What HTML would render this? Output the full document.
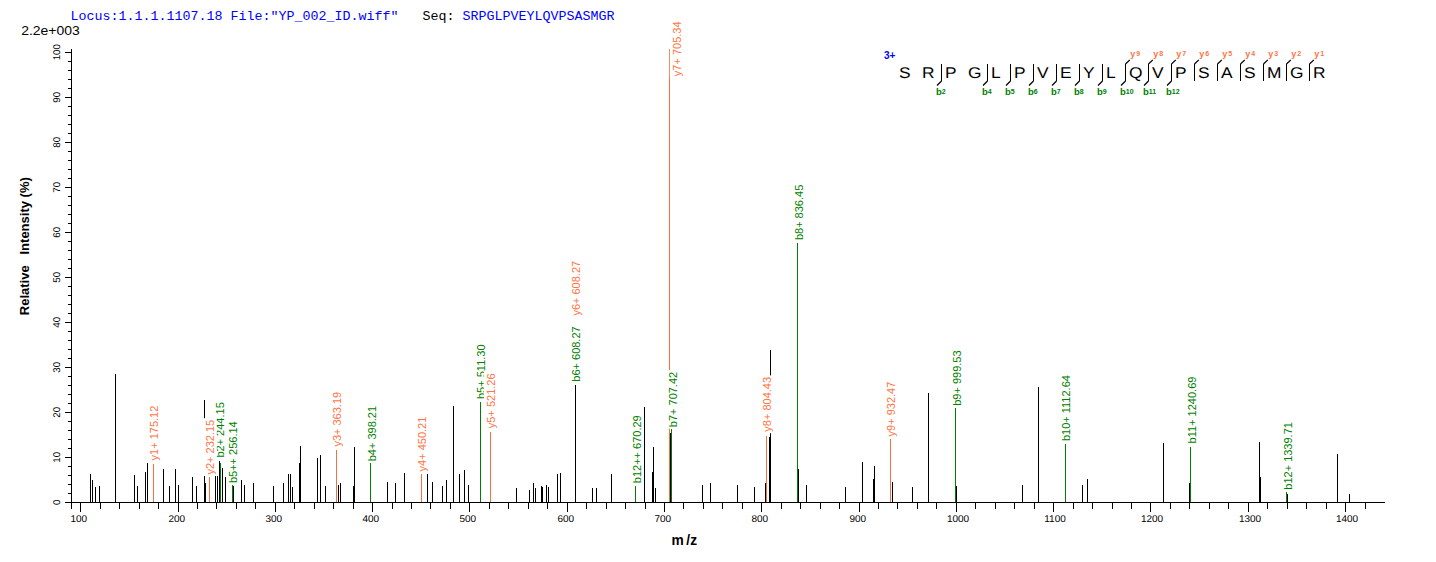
<!DOCTYPE html><html><head><meta charset="utf-8"><style>html,body{margin:0;padding:0;background:#fff;}svg{display:block;}</style></head><body>
<svg width="1436" height="562" viewBox="0 0 1436 562" font-family="Liberation Sans, sans-serif">
<rect width="1436" height="562" fill="#fff"/>
<text x="70.5" y="20" font-family="Liberation Mono, monospace" font-size="13.33" fill="#0000FF" xml:space="preserve">Locus:1.1.1.1107.18 File:"YP_002_ID.wiff"   <tspan fill="#000">Seq: </tspan>SRPGLPVEYLQVPSASMGR</text>
<text x="21.2" y="35" font-size="13" textLength="58.6" lengthAdjust="spacingAndGlyphs" fill="#000">2.2e+003</text>
<g shape-rendering="crispEdges">
<rect x="90" y="474.0" width="1" height="28.5" fill="#000000"/>
<rect x="92" y="480.0" width="1" height="22.5" fill="#000000"/>
<rect x="95" y="487.0" width="1" height="15.5" fill="#000000"/>
<rect x="99" y="486.0" width="1" height="16.5" fill="#000000"/>
<rect x="115" y="374.0" width="1" height="128.5" fill="#000000"/>
<rect x="134" y="475.0" width="1" height="27.5" fill="#000000"/>
<rect x="137" y="486.0" width="1" height="16.5" fill="#000000"/>
<rect x="145" y="472.0" width="1" height="30.5" fill="#000000"/>
<rect x="147" y="463.0" width="1" height="39.5" fill="#000000"/>
<rect x="163" y="469.0" width="1" height="33.5" fill="#000000"/>
<rect x="169" y="486.0" width="1" height="16.5" fill="#000000"/>
<rect x="175" y="469.0" width="1" height="33.5" fill="#000000"/>
<rect x="178" y="485.0" width="1" height="17.5" fill="#000000"/>
<rect x="192" y="477.0" width="1" height="25.5" fill="#000000"/>
<rect x="196" y="486.0" width="1" height="16.5" fill="#000000"/>
<rect x="204" y="400.0" width="1" height="102.5" fill="#000000"/>
<rect x="205" y="483.3" width="1" height="19.2" fill="#000000"/>
<rect x="215" y="475.2" width="1" height="27.3" fill="#000000"/>
<rect x="217" y="476.2" width="1" height="26.3" fill="#000000"/>
<rect x="219" y="461.3" width="1" height="41.2" fill="#000000"/>
<rect x="222" y="468.1" width="1" height="34.4" fill="#000000"/>
<rect x="225" y="476.9" width="1" height="25.6" fill="#000000"/>
<rect x="233" y="486.0" width="1" height="16.5" fill="#000000"/>
<rect x="241" y="480.1" width="1" height="22.4" fill="#000000"/>
<rect x="244" y="484.7" width="1" height="17.8" fill="#000000"/>
<rect x="253" y="483.1" width="1" height="19.4" fill="#000000"/>
<rect x="273" y="486.0" width="1" height="16.5" fill="#000000"/>
<rect x="283" y="483.0" width="1" height="19.5" fill="#000000"/>
<rect x="288" y="474.0" width="1" height="28.5" fill="#000000"/>
<rect x="290" y="474.0" width="1" height="28.5" fill="#000000"/>
<rect x="292" y="487.0" width="1" height="15.5" fill="#000000"/>
<rect x="299" y="463.0" width="1" height="39.5" fill="#000000"/>
<rect x="300" y="446.0" width="1" height="56.5" fill="#000000"/>
<rect x="317" y="458.0" width="1" height="44.5" fill="#000000"/>
<rect x="320" y="455.0" width="1" height="47.5" fill="#000000"/>
<rect x="325" y="486.0" width="1" height="16.5" fill="#000000"/>
<rect x="338" y="485.0" width="1" height="17.5" fill="#000000"/>
<rect x="340" y="483.0" width="1" height="19.5" fill="#000000"/>
<rect x="353" y="486.0" width="1" height="16.5" fill="#000000"/>
<rect x="354" y="447.0" width="1" height="55.5" fill="#000000"/>
<rect x="387" y="482.0" width="1" height="20.5" fill="#000000"/>
<rect x="395" y="483.0" width="1" height="19.5" fill="#000000"/>
<rect x="404" y="473.0" width="1" height="29.5" fill="#000000"/>
<rect x="427" y="474.0" width="1" height="28.5" fill="#000000"/>
<rect x="432" y="482.0" width="1" height="20.5" fill="#000000"/>
<rect x="442" y="486.0" width="1" height="16.5" fill="#000000"/>
<rect x="446" y="480.0" width="1" height="22.5" fill="#000000"/>
<rect x="453" y="405.9" width="1" height="96.6" fill="#000000"/>
<rect x="459" y="474.0" width="1" height="28.5" fill="#000000"/>
<rect x="464" y="470.0" width="1" height="32.5" fill="#000000"/>
<rect x="468" y="485.0" width="1" height="17.5" fill="#000000"/>
<rect x="516" y="488.0" width="1" height="14.5" fill="#000000"/>
<rect x="529" y="490.0" width="1" height="12.5" fill="#000000"/>
<rect x="533" y="483.0" width="1" height="19.5" fill="#000000"/>
<rect x="535" y="488.0" width="1" height="14.5" fill="#000000"/>
<rect x="541" y="486.0" width="1" height="16.5" fill="#000000"/>
<rect x="542" y="487.0" width="1" height="15.5" fill="#000000"/>
<rect x="546" y="485.0" width="1" height="17.5" fill="#000000"/>
<rect x="548" y="487.0" width="1" height="15.5" fill="#000000"/>
<rect x="557" y="474.0" width="1" height="28.5" fill="#000000"/>
<rect x="560" y="473.0" width="1" height="29.5" fill="#000000"/>
<rect x="575" y="385.0" width="1" height="117.5" fill="#000000"/>
<rect x="592" y="488.0" width="1" height="14.5" fill="#000000"/>
<rect x="596" y="488.0" width="1" height="14.5" fill="#000000"/>
<rect x="611" y="474.0" width="1" height="28.5" fill="#000000"/>
<rect x="644" y="407.0" width="1" height="95.5" fill="#000000"/>
<rect x="652" y="471.8" width="1" height="30.7" fill="#000000"/>
<rect x="653" y="446.8" width="1" height="55.7" fill="#000000"/>
<rect x="655" y="488.0" width="1" height="14.5" fill="#000000"/>
<rect x="670" y="432.5" width="1" height="70.0" fill="#000000"/>
<rect x="702" y="485.0" width="1" height="17.5" fill="#000000"/>
<rect x="710" y="483.0" width="1" height="19.5" fill="#000000"/>
<rect x="737" y="485.0" width="1" height="17.5" fill="#000000"/>
<rect x="754" y="487.0" width="1" height="15.5" fill="#000000"/>
<rect x="765" y="483.0" width="1" height="19.5" fill="#000000"/>
<rect x="769" y="437.0" width="1" height="65.5" fill="#000000"/>
<rect x="770" y="350.3" width="1" height="152.2" fill="#000000"/>
<rect x="798" y="469.0" width="1" height="33.5" fill="#000000"/>
<rect x="806" y="485.0" width="1" height="17.5" fill="#000000"/>
<rect x="845" y="487.0" width="1" height="15.5" fill="#000000"/>
<rect x="862" y="462.0" width="1" height="40.5" fill="#000000"/>
<rect x="873" y="479.0" width="1" height="23.5" fill="#000000"/>
<rect x="874" y="466.0" width="1" height="36.5" fill="#000000"/>
<rect x="892" y="482.0" width="1" height="20.5" fill="#000000"/>
<rect x="912" y="487.0" width="1" height="15.5" fill="#000000"/>
<rect x="928" y="392.8" width="1" height="109.7" fill="#000000"/>
<rect x="956" y="486.0" width="1" height="16.5" fill="#000000"/>
<rect x="1022" y="485.0" width="1" height="17.5" fill="#000000"/>
<rect x="1038" y="387.0" width="1" height="115.5" fill="#000000"/>
<rect x="1082" y="485.0" width="1" height="17.5" fill="#000000"/>
<rect x="1087" y="479.0" width="1" height="23.5" fill="#000000"/>
<rect x="1163" y="443.0" width="1" height="59.5" fill="#000000"/>
<rect x="1189" y="483.0" width="1" height="19.5" fill="#000000"/>
<rect x="1259" y="441.7" width="1" height="60.8" fill="#000000"/>
<rect x="1260" y="476.6" width="1" height="25.9" fill="#000000"/>
<rect x="1287" y="494.0" width="1" height="8.5" fill="#000000"/>
<rect x="1337" y="454.0" width="1" height="48.5" fill="#000000"/>
<rect x="1349" y="494.0" width="1" height="8.5" fill="#000000"/>
<rect x="153" y="464.0" width="1" height="38.5" fill="#F7703C"/>
<rect x="209" y="477.2" width="1" height="25.3" fill="#F7703C"/>
<rect x="336" y="450.4" width="1" height="52.1" fill="#F7703C"/>
<rect x="421" y="474.0" width="1" height="28.5" fill="#F7703C"/>
<rect x="490" y="431.8" width="1" height="70.7" fill="#F7703C"/>
<rect x="669" y="48.8" width="1" height="453.7" fill="#F7703C"/>
<rect x="766" y="435.7" width="1" height="66.8" fill="#F7703C"/>
<rect x="890" y="438.8" width="1" height="63.7" fill="#F7703C"/>
<rect x="220" y="462.7" width="1" height="39.8" fill="#008000"/>
<rect x="232" y="485.0" width="1" height="17.5" fill="#008000"/>
<rect x="370" y="463.3" width="1" height="39.2" fill="#008000"/>
<rect x="480" y="402.0" width="1" height="100.5" fill="#008000"/>
<rect x="635" y="485.7" width="1" height="16.8" fill="#008000"/>
<rect x="671" y="429.0" width="1" height="73.5" fill="#008000"/>
<rect x="797" y="242.9" width="1" height="259.6" fill="#008000"/>
<rect x="955" y="407.5" width="1" height="95.0" fill="#008000"/>
<rect x="1065" y="443.6" width="1" height="58.9" fill="#008000"/>
<rect x="1190" y="447.2" width="1" height="55.3" fill="#008000"/>
<rect x="1286" y="492.1" width="1" height="10.4" fill="#008000"/>
</g>
<rect x="669.80" y="19.90" width="13.30" height="57.80" fill="#fff"/>
<text transform="translate(680.60,76.20) rotate(-90)" font-size="11" fill="#FF7444">y7+ 705.34</text>
<rect x="791.90" y="183.18" width="13.30" height="58.42" fill="#fff"/>
<text transform="translate(802.70,240.10) rotate(-90)" font-size="11" fill="#008000">b8+ 836.45</text>
<rect x="569.20" y="259.30" width="13.30" height="57.80" fill="#fff"/>
<text transform="translate(580.00,315.60) rotate(-90)" font-size="11" fill="#FF7444">y6+ 608.27</text>
<rect x="568.70" y="324.78" width="13.30" height="58.42" fill="#fff"/>
<text transform="translate(579.50,381.70) rotate(-90)" font-size="11" fill="#008000">b6+ 608.27</text>
<rect x="473.70" y="342.89" width="13.30" height="57.61" fill="#fff"/>
<text transform="translate(484.50,399.00) rotate(-90)" font-size="11" fill="#008000">b5+ 511.30</text>
<rect x="949.90" y="348.88" width="13.30" height="58.42" fill="#fff"/>
<text transform="translate(960.70,405.80) rotate(-90)" font-size="11" fill="#008000">b9+ 999.53</text>
<rect x="666.00" y="370.28" width="13.30" height="58.42" fill="#fff"/>
<text transform="translate(676.80,427.20) rotate(-90)" font-size="11" fill="#008000">b7+ 707.42</text>
<rect x="483.80" y="371.90" width="13.30" height="57.80" fill="#fff"/>
<text transform="translate(494.60,428.20) rotate(-90)" font-size="11" fill="#FF7444">y5+ 521.26</text>
<rect x="1059.30" y="373.55" width="13.30" height="69.05" fill="#fff"/>
<text transform="translate(1070.10,441.10) rotate(-90)" font-size="11" fill="#008000">b10+ 1112.64</text>
<rect x="759.80" y="375.40" width="13.30" height="57.80" fill="#fff"/>
<text transform="translate(770.60,431.70) rotate(-90)" font-size="11" fill="#FF7444">y8+ 804.43</text>
<rect x="1184.80" y="375.04" width="13.30" height="69.86" fill="#fff"/>
<text transform="translate(1195.60,443.40) rotate(-90)" font-size="11" fill="#008000">b11+ 1240.69</text>
<rect x="884.40" y="380.10" width="13.30" height="57.80" fill="#fff"/>
<text transform="translate(895.20,436.40) rotate(-90)" font-size="11" fill="#FF7444">y9+ 932.47</text>
<rect x="329.90" y="390.30" width="13.30" height="57.80" fill="#fff"/>
<text transform="translate(340.70,446.60) rotate(-90)" font-size="11" fill="#FF7444">y3+ 363.19</text>
<rect x="213.00" y="400.68" width="13.30" height="58.42" fill="#fff"/>
<text transform="translate(223.80,457.60) rotate(-90)" font-size="11" fill="#008000">b2+ 244.15</text>
<rect x="147.00" y="404.10" width="13.30" height="57.80" fill="#fff"/>
<text transform="translate(157.80,460.40) rotate(-90)" font-size="11" fill="#FF7444">y1+ 175.12</text>
<rect x="364.90" y="404.38" width="13.30" height="58.42" fill="#fff"/>
<text transform="translate(375.70,461.30) rotate(-90)" font-size="11" fill="#008000">b4+ 398.21</text>
<rect x="629.70" y="413.73" width="13.30" height="70.97" fill="#fff"/>
<text transform="translate(640.50,483.20) rotate(-90)" font-size="11" fill="#008000">b12++ 670.29</text>
<rect x="415.60" y="415.10" width="13.30" height="57.80" fill="#fff"/>
<text transform="translate(426.40,471.40) rotate(-90)" font-size="11" fill="#FF7444">y4+ 450.21</text>
<rect x="203.50" y="418.20" width="13.30" height="57.80" fill="#fff"/>
<text transform="translate(214.30,474.50) rotate(-90)" font-size="11" fill="#FF7444">y2+ 232.15</text>
<rect x="226.00" y="419.76" width="13.30" height="64.84" fill="#fff"/>
<text transform="translate(236.80,483.10) rotate(-90)" font-size="11" fill="#008000">b5++ 256.14</text>
<rect x="1281.20" y="420.53" width="13.30" height="70.67" fill="#fff"/>
<text transform="translate(1292.00,489.70) rotate(-90)" font-size="11" fill="#008000">b12+ 1339.71</text>
<g shape-rendering="crispEdges" fill="#000">
<rect x="71" y="49" width="1" height="460"/>
<rect x="65" y="502" width="1320" height="1"/>
<rect x="65" y="502" width="6" height="1"/>
<rect x="68" y="493" width="3" height="1"/>
<rect x="68" y="484" width="3" height="1"/>
<rect x="68" y="475" width="3" height="1"/>
<rect x="68" y="466" width="3" height="1"/>
<rect x="65" y="457" width="6" height="1"/>
<rect x="68" y="448" width="3" height="1"/>
<rect x="68" y="439" width="3" height="1"/>
<rect x="68" y="430" width="3" height="1"/>
<rect x="68" y="421" width="3" height="1"/>
<rect x="65" y="412" width="6" height="1"/>
<rect x="68" y="403" width="3" height="1"/>
<rect x="68" y="394" width="3" height="1"/>
<rect x="68" y="385" width="3" height="1"/>
<rect x="68" y="376" width="3" height="1"/>
<rect x="65" y="367" width="6" height="1"/>
<rect x="68" y="358" width="3" height="1"/>
<rect x="68" y="349" width="3" height="1"/>
<rect x="68" y="340" width="3" height="1"/>
<rect x="68" y="331" width="3" height="1"/>
<rect x="65" y="322" width="6" height="1"/>
<rect x="68" y="313" width="3" height="1"/>
<rect x="68" y="304" width="3" height="1"/>
<rect x="68" y="295" width="3" height="1"/>
<rect x="68" y="286" width="3" height="1"/>
<rect x="65" y="277" width="6" height="1"/>
<rect x="68" y="268" width="3" height="1"/>
<rect x="68" y="259" width="3" height="1"/>
<rect x="68" y="250" width="3" height="1"/>
<rect x="68" y="241" width="3" height="1"/>
<rect x="65" y="232" width="6" height="1"/>
<rect x="68" y="223" width="3" height="1"/>
<rect x="68" y="214" width="3" height="1"/>
<rect x="68" y="205" width="3" height="1"/>
<rect x="68" y="196" width="3" height="1"/>
<rect x="65" y="187" width="6" height="1"/>
<rect x="68" y="178" width="3" height="1"/>
<rect x="68" y="169" width="3" height="1"/>
<rect x="68" y="160" width="3" height="1"/>
<rect x="68" y="151" width="3" height="1"/>
<rect x="65" y="142" width="6" height="1"/>
<rect x="68" y="133" width="3" height="1"/>
<rect x="68" y="124" width="3" height="1"/>
<rect x="68" y="115" width="3" height="1"/>
<rect x="68" y="106" width="3" height="1"/>
<rect x="65" y="97" width="6" height="1"/>
<rect x="68" y="88" width="3" height="1"/>
<rect x="68" y="79" width="3" height="1"/>
<rect x="68" y="70" width="3" height="1"/>
<rect x="68" y="61" width="3" height="1"/>
<rect x="65" y="52" width="6" height="1"/>
<rect x="80" y="503" width="1" height="9"/>
<rect x="100" y="503" width="1" height="6"/>
<rect x="119" y="503" width="1" height="6"/>
<rect x="139" y="503" width="1" height="6"/>
<rect x="158" y="503" width="1" height="6"/>
<rect x="178" y="503" width="1" height="9"/>
<rect x="197" y="503" width="1" height="6"/>
<rect x="216" y="503" width="1" height="6"/>
<rect x="236" y="503" width="1" height="6"/>
<rect x="255" y="503" width="1" height="6"/>
<rect x="275" y="503" width="1" height="9"/>
<rect x="294" y="503" width="1" height="6"/>
<rect x="314" y="503" width="1" height="6"/>
<rect x="333" y="503" width="1" height="6"/>
<rect x="353" y="503" width="1" height="6"/>
<rect x="372" y="503" width="1" height="9"/>
<rect x="392" y="503" width="1" height="6"/>
<rect x="411" y="503" width="1" height="6"/>
<rect x="430" y="503" width="1" height="6"/>
<rect x="450" y="503" width="1" height="6"/>
<rect x="469" y="503" width="1" height="9"/>
<rect x="489" y="503" width="1" height="6"/>
<rect x="508" y="503" width="1" height="6"/>
<rect x="528" y="503" width="1" height="6"/>
<rect x="547" y="503" width="1" height="6"/>
<rect x="567" y="503" width="1" height="9"/>
<rect x="586" y="503" width="1" height="6"/>
<rect x="606" y="503" width="1" height="6"/>
<rect x="625" y="503" width="1" height="6"/>
<rect x="645" y="503" width="1" height="6"/>
<rect x="664" y="503" width="1" height="9"/>
<rect x="683" y="503" width="1" height="6"/>
<rect x="703" y="503" width="1" height="6"/>
<rect x="722" y="503" width="1" height="6"/>
<rect x="742" y="503" width="1" height="6"/>
<rect x="761" y="503" width="1" height="9"/>
<rect x="781" y="503" width="1" height="6"/>
<rect x="800" y="503" width="1" height="6"/>
<rect x="820" y="503" width="1" height="6"/>
<rect x="839" y="503" width="1" height="6"/>
<rect x="859" y="503" width="1" height="9"/>
<rect x="878" y="503" width="1" height="6"/>
<rect x="897" y="503" width="1" height="6"/>
<rect x="917" y="503" width="1" height="6"/>
<rect x="936" y="503" width="1" height="6"/>
<rect x="956" y="503" width="1" height="9"/>
<rect x="975" y="503" width="1" height="6"/>
<rect x="995" y="503" width="1" height="6"/>
<rect x="1014" y="503" width="1" height="6"/>
<rect x="1034" y="503" width="1" height="6"/>
<rect x="1053" y="503" width="1" height="9"/>
<rect x="1073" y="503" width="1" height="6"/>
<rect x="1092" y="503" width="1" height="6"/>
<rect x="1112" y="503" width="1" height="6"/>
<rect x="1131" y="503" width="1" height="6"/>
<rect x="1150" y="503" width="1" height="9"/>
<rect x="1170" y="503" width="1" height="6"/>
<rect x="1189" y="503" width="1" height="6"/>
<rect x="1209" y="503" width="1" height="6"/>
<rect x="1228" y="503" width="1" height="6"/>
<rect x="1248" y="503" width="1" height="9"/>
<rect x="1267" y="503" width="1" height="6"/>
<rect x="1287" y="503" width="1" height="6"/>
<rect x="1306" y="503" width="1" height="6"/>
<rect x="1326" y="503" width="1" height="6"/>
<rect x="1345" y="503" width="1" height="9"/>
<rect x="1365" y="503" width="1" height="6"/>
</g>
<text transform="translate(59.7,502.2) rotate(-90)" font-size="9.8" text-rendering="geometricPrecision" text-anchor="middle" fill="#000">0</text>
<text transform="translate(59.7,457.2) rotate(-90)" font-size="9.8" text-rendering="geometricPrecision" text-anchor="middle" fill="#000">10</text>
<text transform="translate(59.7,412.2) rotate(-90)" font-size="9.8" text-rendering="geometricPrecision" text-anchor="middle" fill="#000">20</text>
<text transform="translate(59.7,367.2) rotate(-90)" font-size="9.8" text-rendering="geometricPrecision" text-anchor="middle" fill="#000">30</text>
<text transform="translate(59.7,322.2) rotate(-90)" font-size="9.8" text-rendering="geometricPrecision" text-anchor="middle" fill="#000">40</text>
<text transform="translate(59.7,277.2) rotate(-90)" font-size="9.8" text-rendering="geometricPrecision" text-anchor="middle" fill="#000">50</text>
<text transform="translate(59.7,232.2) rotate(-90)" font-size="9.8" text-rendering="geometricPrecision" text-anchor="middle" fill="#000">60</text>
<text transform="translate(59.7,187.2) rotate(-90)" font-size="9.8" text-rendering="geometricPrecision" text-anchor="middle" fill="#000">70</text>
<text transform="translate(59.7,142.2) rotate(-90)" font-size="9.8" text-rendering="geometricPrecision" text-anchor="middle" fill="#000">80</text>
<text transform="translate(59.7,97.2) rotate(-90)" font-size="9.8" text-rendering="geometricPrecision" text-anchor="middle" fill="#000">90</text>
<text transform="translate(59.7,52.2) rotate(-90)" font-size="9.8" text-rendering="geometricPrecision" text-anchor="middle" fill="#000">100</text>
<text transform="translate(78.80,522) scale(1.02,1)" font-size="9.8" text-rendering="geometricPrecision" text-anchor="middle" fill="#000">100</text>
<text transform="translate(176.80,522) scale(1.02,1)" font-size="9.8" text-rendering="geometricPrecision" text-anchor="middle" fill="#000">200</text>
<text transform="translate(273.80,522) scale(1.02,1)" font-size="9.8" text-rendering="geometricPrecision" text-anchor="middle" fill="#000">300</text>
<text transform="translate(370.80,522) scale(1.02,1)" font-size="9.8" text-rendering="geometricPrecision" text-anchor="middle" fill="#000">400</text>
<text transform="translate(467.80,522) scale(1.02,1)" font-size="9.8" text-rendering="geometricPrecision" text-anchor="middle" fill="#000">500</text>
<text transform="translate(565.80,522) scale(1.02,1)" font-size="9.8" text-rendering="geometricPrecision" text-anchor="middle" fill="#000">600</text>
<text transform="translate(662.80,522) scale(1.02,1)" font-size="9.8" text-rendering="geometricPrecision" text-anchor="middle" fill="#000">700</text>
<text transform="translate(759.80,522) scale(1.02,1)" font-size="9.8" text-rendering="geometricPrecision" text-anchor="middle" fill="#000">800</text>
<text transform="translate(857.80,522) scale(1.02,1)" font-size="9.8" text-rendering="geometricPrecision" text-anchor="middle" fill="#000">900</text>
<text transform="translate(958.00,522) scale(1.02,1)" font-size="9.8" text-rendering="geometricPrecision" text-anchor="middle" fill="#000">1000</text>
<text transform="translate(1055.00,522) scale(1.02,1)" font-size="9.8" text-rendering="geometricPrecision" text-anchor="middle" fill="#000">1100</text>
<text transform="translate(1152.00,522) scale(1.02,1)" font-size="9.8" text-rendering="geometricPrecision" text-anchor="middle" fill="#000">1200</text>
<text transform="translate(1250.00,522) scale(1.02,1)" font-size="9.8" text-rendering="geometricPrecision" text-anchor="middle" fill="#000">1300</text>
<text transform="translate(1347.00,522) scale(1.02,1)" font-size="9.8" text-rendering="geometricPrecision" text-anchor="middle" fill="#000">1400</text>
<text transform="translate(671.5,545) scale(0.92,1)" font-size="15" font-weight="bold" fill="#000">m</text>
<text transform="translate(686.2,545) scale(0.92,1)" font-size="15" font-weight="bold" fill="#000">/</text>
<text transform="translate(690.3,545) scale(0.92,1)" font-size="15" font-weight="bold" fill="#000">z</text>
<text transform="translate(29,315.2) rotate(-90)" font-size="13" font-weight="bold" fill="#000" xml:space="preserve">Relative   Intensity (%)</text>
<text x="884" y="58.5" font-size="10" font-weight="bold" fill="#0000FF">3+</text>
<text transform="translate(899.00,78) scale(1.12,1.0)" font-size="15.5" text-rendering="geometricPrecision" fill="#000">S</text>
<text transform="translate(922.00,78) scale(1.12,1.0)" font-size="15.5" text-rendering="geometricPrecision" fill="#000">R</text>
<text transform="translate(945.00,78) scale(1.12,1.0)" font-size="15.5" text-rendering="geometricPrecision" fill="#000">P</text>
<text transform="translate(968.00,78) scale(1.12,1.0)" font-size="15.5" text-rendering="geometricPrecision" fill="#000">G</text>
<text transform="translate(991.00,78) scale(1.12,1.0)" font-size="15.5" text-rendering="geometricPrecision" fill="#000">L</text>
<text transform="translate(1014.00,78) scale(1.12,1.0)" font-size="15.5" text-rendering="geometricPrecision" fill="#000">P</text>
<text transform="translate(1037.00,78) scale(1.12,1.0)" font-size="15.5" text-rendering="geometricPrecision" fill="#000">V</text>
<text transform="translate(1060.00,78) scale(1.12,1.0)" font-size="15.5" text-rendering="geometricPrecision" fill="#000">E</text>
<text transform="translate(1083.00,78) scale(1.12,1.0)" font-size="15.5" text-rendering="geometricPrecision" fill="#000">Y</text>
<text transform="translate(1106.00,78) scale(1.12,1.0)" font-size="15.5" text-rendering="geometricPrecision" fill="#000">L</text>
<text transform="translate(1129.00,78) scale(1.12,1.0)" font-size="15.5" text-rendering="geometricPrecision" fill="#000">Q</text>
<text transform="translate(1152.00,78) scale(1.12,1.0)" font-size="15.5" text-rendering="geometricPrecision" fill="#000">V</text>
<text transform="translate(1175.00,78) scale(1.12,1.0)" font-size="15.5" text-rendering="geometricPrecision" fill="#000">P</text>
<text transform="translate(1198.00,78) scale(1.12,1.0)" font-size="15.5" text-rendering="geometricPrecision" fill="#000">S</text>
<text transform="translate(1221.00,78) scale(1.12,1.0)" font-size="15.5" text-rendering="geometricPrecision" fill="#000">A</text>
<text transform="translate(1244.00,78) scale(1.12,1.0)" font-size="15.5" text-rendering="geometricPrecision" fill="#000">S</text>
<text transform="translate(1267.00,78) scale(1.12,1.0)" font-size="15.5" text-rendering="geometricPrecision" fill="#000">M</text>
<text transform="translate(1290.00,78) scale(1.12,1.0)" font-size="15.5" text-rendering="geometricPrecision" fill="#000">G</text>
<text transform="translate(1313.00,78) scale(1.12,1.0)" font-size="15.5" text-rendering="geometricPrecision" fill="#000">R</text>
<path d="M941.5,64 L941.5,81" stroke="#000" stroke-width="1" fill="none" shape-rendering="crispEdges"/>
<path d="M941.5,81 L937.0,85.5" stroke="#000" stroke-width="1.3" fill="none"/>
<text x="936.0" y="94.8" font-size="9.5" font-weight="bold" fill="#008000">b<tspan font-size="7" dy="-1">2</tspan></text>
<path d="M987.5,64 L987.5,81" stroke="#000" stroke-width="1" fill="none" shape-rendering="crispEdges"/>
<path d="M987.5,81 L983.0,85.5" stroke="#000" stroke-width="1.3" fill="none"/>
<text x="982.0" y="94.8" font-size="9.5" font-weight="bold" fill="#008000">b<tspan font-size="7" dy="-1">4</tspan></text>
<path d="M1010.5,64 L1010.5,81" stroke="#000" stroke-width="1" fill="none" shape-rendering="crispEdges"/>
<path d="M1010.5,81 L1006.0,85.5" stroke="#000" stroke-width="1.3" fill="none"/>
<text x="1005.0" y="94.8" font-size="9.5" font-weight="bold" fill="#008000">b<tspan font-size="7" dy="-1">5</tspan></text>
<path d="M1033.5,64 L1033.5,81" stroke="#000" stroke-width="1" fill="none" shape-rendering="crispEdges"/>
<path d="M1033.5,81 L1029.0,85.5" stroke="#000" stroke-width="1.3" fill="none"/>
<text x="1028.0" y="94.8" font-size="9.5" font-weight="bold" fill="#008000">b<tspan font-size="7" dy="-1">6</tspan></text>
<path d="M1056.5,64 L1056.5,81" stroke="#000" stroke-width="1" fill="none" shape-rendering="crispEdges"/>
<path d="M1056.5,81 L1052.0,85.5" stroke="#000" stroke-width="1.3" fill="none"/>
<text x="1051.0" y="94.8" font-size="9.5" font-weight="bold" fill="#008000">b<tspan font-size="7" dy="-1">7</tspan></text>
<path d="M1079.5,64 L1079.5,81" stroke="#000" stroke-width="1" fill="none" shape-rendering="crispEdges"/>
<path d="M1079.5,81 L1075.0,85.5" stroke="#000" stroke-width="1.3" fill="none"/>
<text x="1074.0" y="94.8" font-size="9.5" font-weight="bold" fill="#008000">b<tspan font-size="7" dy="-1">8</tspan></text>
<path d="M1102.5,64 L1102.5,81" stroke="#000" stroke-width="1" fill="none" shape-rendering="crispEdges"/>
<path d="M1102.5,81 L1098.0,85.5" stroke="#000" stroke-width="1.3" fill="none"/>
<text x="1097.0" y="94.8" font-size="9.5" font-weight="bold" fill="#008000">b<tspan font-size="7" dy="-1">9</tspan></text>
<path d="M1125.5,64 L1125.5,81" stroke="#000" stroke-width="1" fill="none" shape-rendering="crispEdges"/>
<path d="M1125.5,81 L1121.0,85.5" stroke="#000" stroke-width="1.3" fill="none"/>
<text x="1120.0" y="94.8" font-size="9.5" font-weight="bold" fill="#008000">b<tspan font-size="7" dy="-1">10</tspan></text>
<path d="M1125.5,64 L1129.8,59.9" stroke="#000" stroke-width="1.3" fill="none"/>
<text x="1130.2" y="57" font-size="9" font-weight="bold" fill="#FF7444">y<tspan font-size="7" dx="1" dy="-1.5">9</tspan></text>
<path d="M1148.5,64 L1148.5,81" stroke="#000" stroke-width="1" fill="none" shape-rendering="crispEdges"/>
<path d="M1148.5,81 L1144.0,85.5" stroke="#000" stroke-width="1.3" fill="none"/>
<text x="1143.0" y="94.8" font-size="9.5" font-weight="bold" fill="#008000">b<tspan font-size="7" dy="-1">11</tspan></text>
<path d="M1148.5,64 L1152.8,59.9" stroke="#000" stroke-width="1.3" fill="none"/>
<text x="1153.2" y="57" font-size="9" font-weight="bold" fill="#FF7444">y<tspan font-size="7" dx="1" dy="-1.5">8</tspan></text>
<path d="M1171.5,64 L1171.5,81" stroke="#000" stroke-width="1" fill="none" shape-rendering="crispEdges"/>
<path d="M1171.5,81 L1167.0,85.5" stroke="#000" stroke-width="1.3" fill="none"/>
<text x="1166.0" y="94.8" font-size="9.5" font-weight="bold" fill="#008000">b<tspan font-size="7" dy="-1">12</tspan></text>
<path d="M1171.5,64 L1175.8,59.9" stroke="#000" stroke-width="1.3" fill="none"/>
<text x="1176.2" y="57" font-size="9" font-weight="bold" fill="#FF7444">y<tspan font-size="7" dx="1" dy="-1.5">7</tspan></text>
<path d="M1194.5,64 L1194.5,81" stroke="#000" stroke-width="1" fill="none" shape-rendering="crispEdges"/>
<path d="M1194.5,64 L1198.8,59.9" stroke="#000" stroke-width="1.3" fill="none"/>
<text x="1199.2" y="57" font-size="9" font-weight="bold" fill="#FF7444">y<tspan font-size="7" dx="1" dy="-1.5">6</tspan></text>
<path d="M1217.5,64 L1217.5,81" stroke="#000" stroke-width="1" fill="none" shape-rendering="crispEdges"/>
<path d="M1217.5,64 L1221.8,59.9" stroke="#000" stroke-width="1.3" fill="none"/>
<text x="1222.2" y="57" font-size="9" font-weight="bold" fill="#FF7444">y<tspan font-size="7" dx="1" dy="-1.5">5</tspan></text>
<path d="M1240.5,64 L1240.5,81" stroke="#000" stroke-width="1" fill="none" shape-rendering="crispEdges"/>
<path d="M1240.5,64 L1244.8,59.9" stroke="#000" stroke-width="1.3" fill="none"/>
<text x="1245.2" y="57" font-size="9" font-weight="bold" fill="#FF7444">y<tspan font-size="7" dx="1" dy="-1.5">4</tspan></text>
<path d="M1263.5,64 L1263.5,81" stroke="#000" stroke-width="1" fill="none" shape-rendering="crispEdges"/>
<path d="M1263.5,64 L1267.8,59.9" stroke="#000" stroke-width="1.3" fill="none"/>
<text x="1268.2" y="57" font-size="9" font-weight="bold" fill="#FF7444">y<tspan font-size="7" dx="1" dy="-1.5">3</tspan></text>
<path d="M1286.5,64 L1286.5,81" stroke="#000" stroke-width="1" fill="none" shape-rendering="crispEdges"/>
<path d="M1286.5,64 L1290.8,59.9" stroke="#000" stroke-width="1.3" fill="none"/>
<text x="1291.2" y="57" font-size="9" font-weight="bold" fill="#FF7444">y<tspan font-size="7" dx="1" dy="-1.5">2</tspan></text>
<path d="M1309.5,64 L1309.5,81" stroke="#000" stroke-width="1" fill="none" shape-rendering="crispEdges"/>
<path d="M1309.5,64 L1313.8,59.9" stroke="#000" stroke-width="1.3" fill="none"/>
<text x="1314.2" y="57" font-size="9" font-weight="bold" fill="#FF7444">y<tspan font-size="7" dx="1" dy="-1.5">1</tspan></text>
</svg></body></html>
